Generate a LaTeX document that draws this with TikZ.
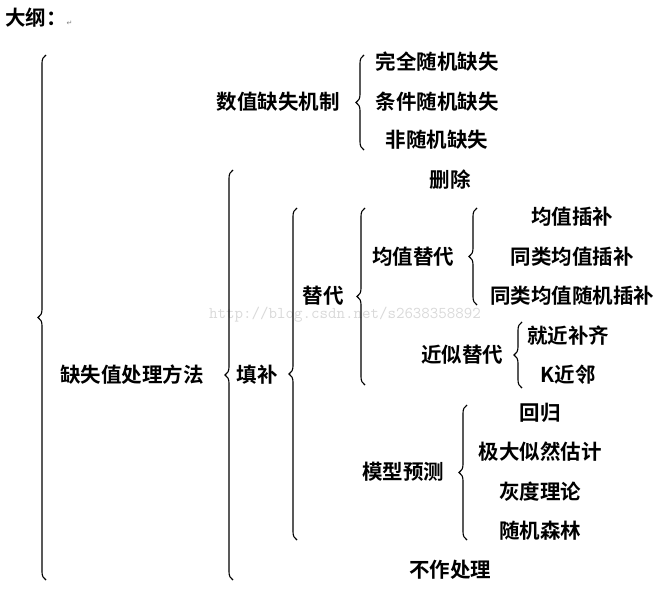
\documentclass[tikz,border=0pt]{standalone}
\usepackage{fontspec}
\newfontfamily\cjk{Noto Sans CJK SC Bold}
\newfontfamily\djsans{DejaVu Sans}
\usetikzlibrary{decorations.pathreplacing}
\begin{document}
\begin{tikzpicture}[x=1pt,y=-1pt,
  t/.style={font=\cjk\fontsize{20.5}{22}\selectfont,inner sep=0pt},
  br/.style={decorate,decoration={brace,amplitude=8pt},line width=1.1pt}]
\useasboundingbox (0,0) rectangle (669,607);
\node[t,anchor=west] (title) at (5,18) {大纲：\textcolor{gray}{\djsans\fontsize{7}{8}\selectfont ↵}};
\node[font=\ttfamily\fontsize{16.5}{16}\selectfont,text=black!15] (wm) at (345,315) {http://blog.csdn.net/s2638358892};
\draw[br] (46,580) -- (46,55);
\node[t] (root) at (132,375) {缺失值处理方法};
\node[t] (mech) at (278,102) {数值缺失机制};
\draw[br] (364,150) -- (364,55);
\node[t] (m1) at (437,62) {完全随机缺失};
\node[t] (m2) at (437,102) {条件随机缺失};
\node[t] (m3) at (437,140) {非随机缺失};
\draw[br] (233,580) -- (233,170);
\node[t] (fill) at (257,375) {填补};
\node[t] (del) at (450,180) {删除};
\node[t] (none) at (450,570) {不作处理};
\draw[br] (297,540) -- (297,208);
\node[t] (rep) at (323,296) {替代};
\draw[br] (365,385) -- (365,208);
\node[t] (mean) at (413,257) {均值替代};
\draw[br] (477,305) -- (477,208);
\node[t] (a1) at (572,217) {均值插补};
\node[t] (a2) at (572,257) {同类均值插补};
\node[t] (a3) at (572,296) {同类均值随机插补};
\node[t] (near) at (462,355) {近似替代};
\draw[br] (522,388) -- (522,322);
\node[t] (b1) at (568,336) {就近补齐};
\node[t] (b2) at (568,375) {K近邻};
\node[t] (model) at (403,472) {模型预测};
\draw[br] (467,540) -- (467,405);
\node[t] (c1) at (540,413) {回归};
\node[t] (c2) at (540,452) {极大似然估计};
\node[t] (c3) at (540,492) {灰度理论};
\node[t] (c4) at (540,531) {随机森林};
\end{tikzpicture}
\end{document}
